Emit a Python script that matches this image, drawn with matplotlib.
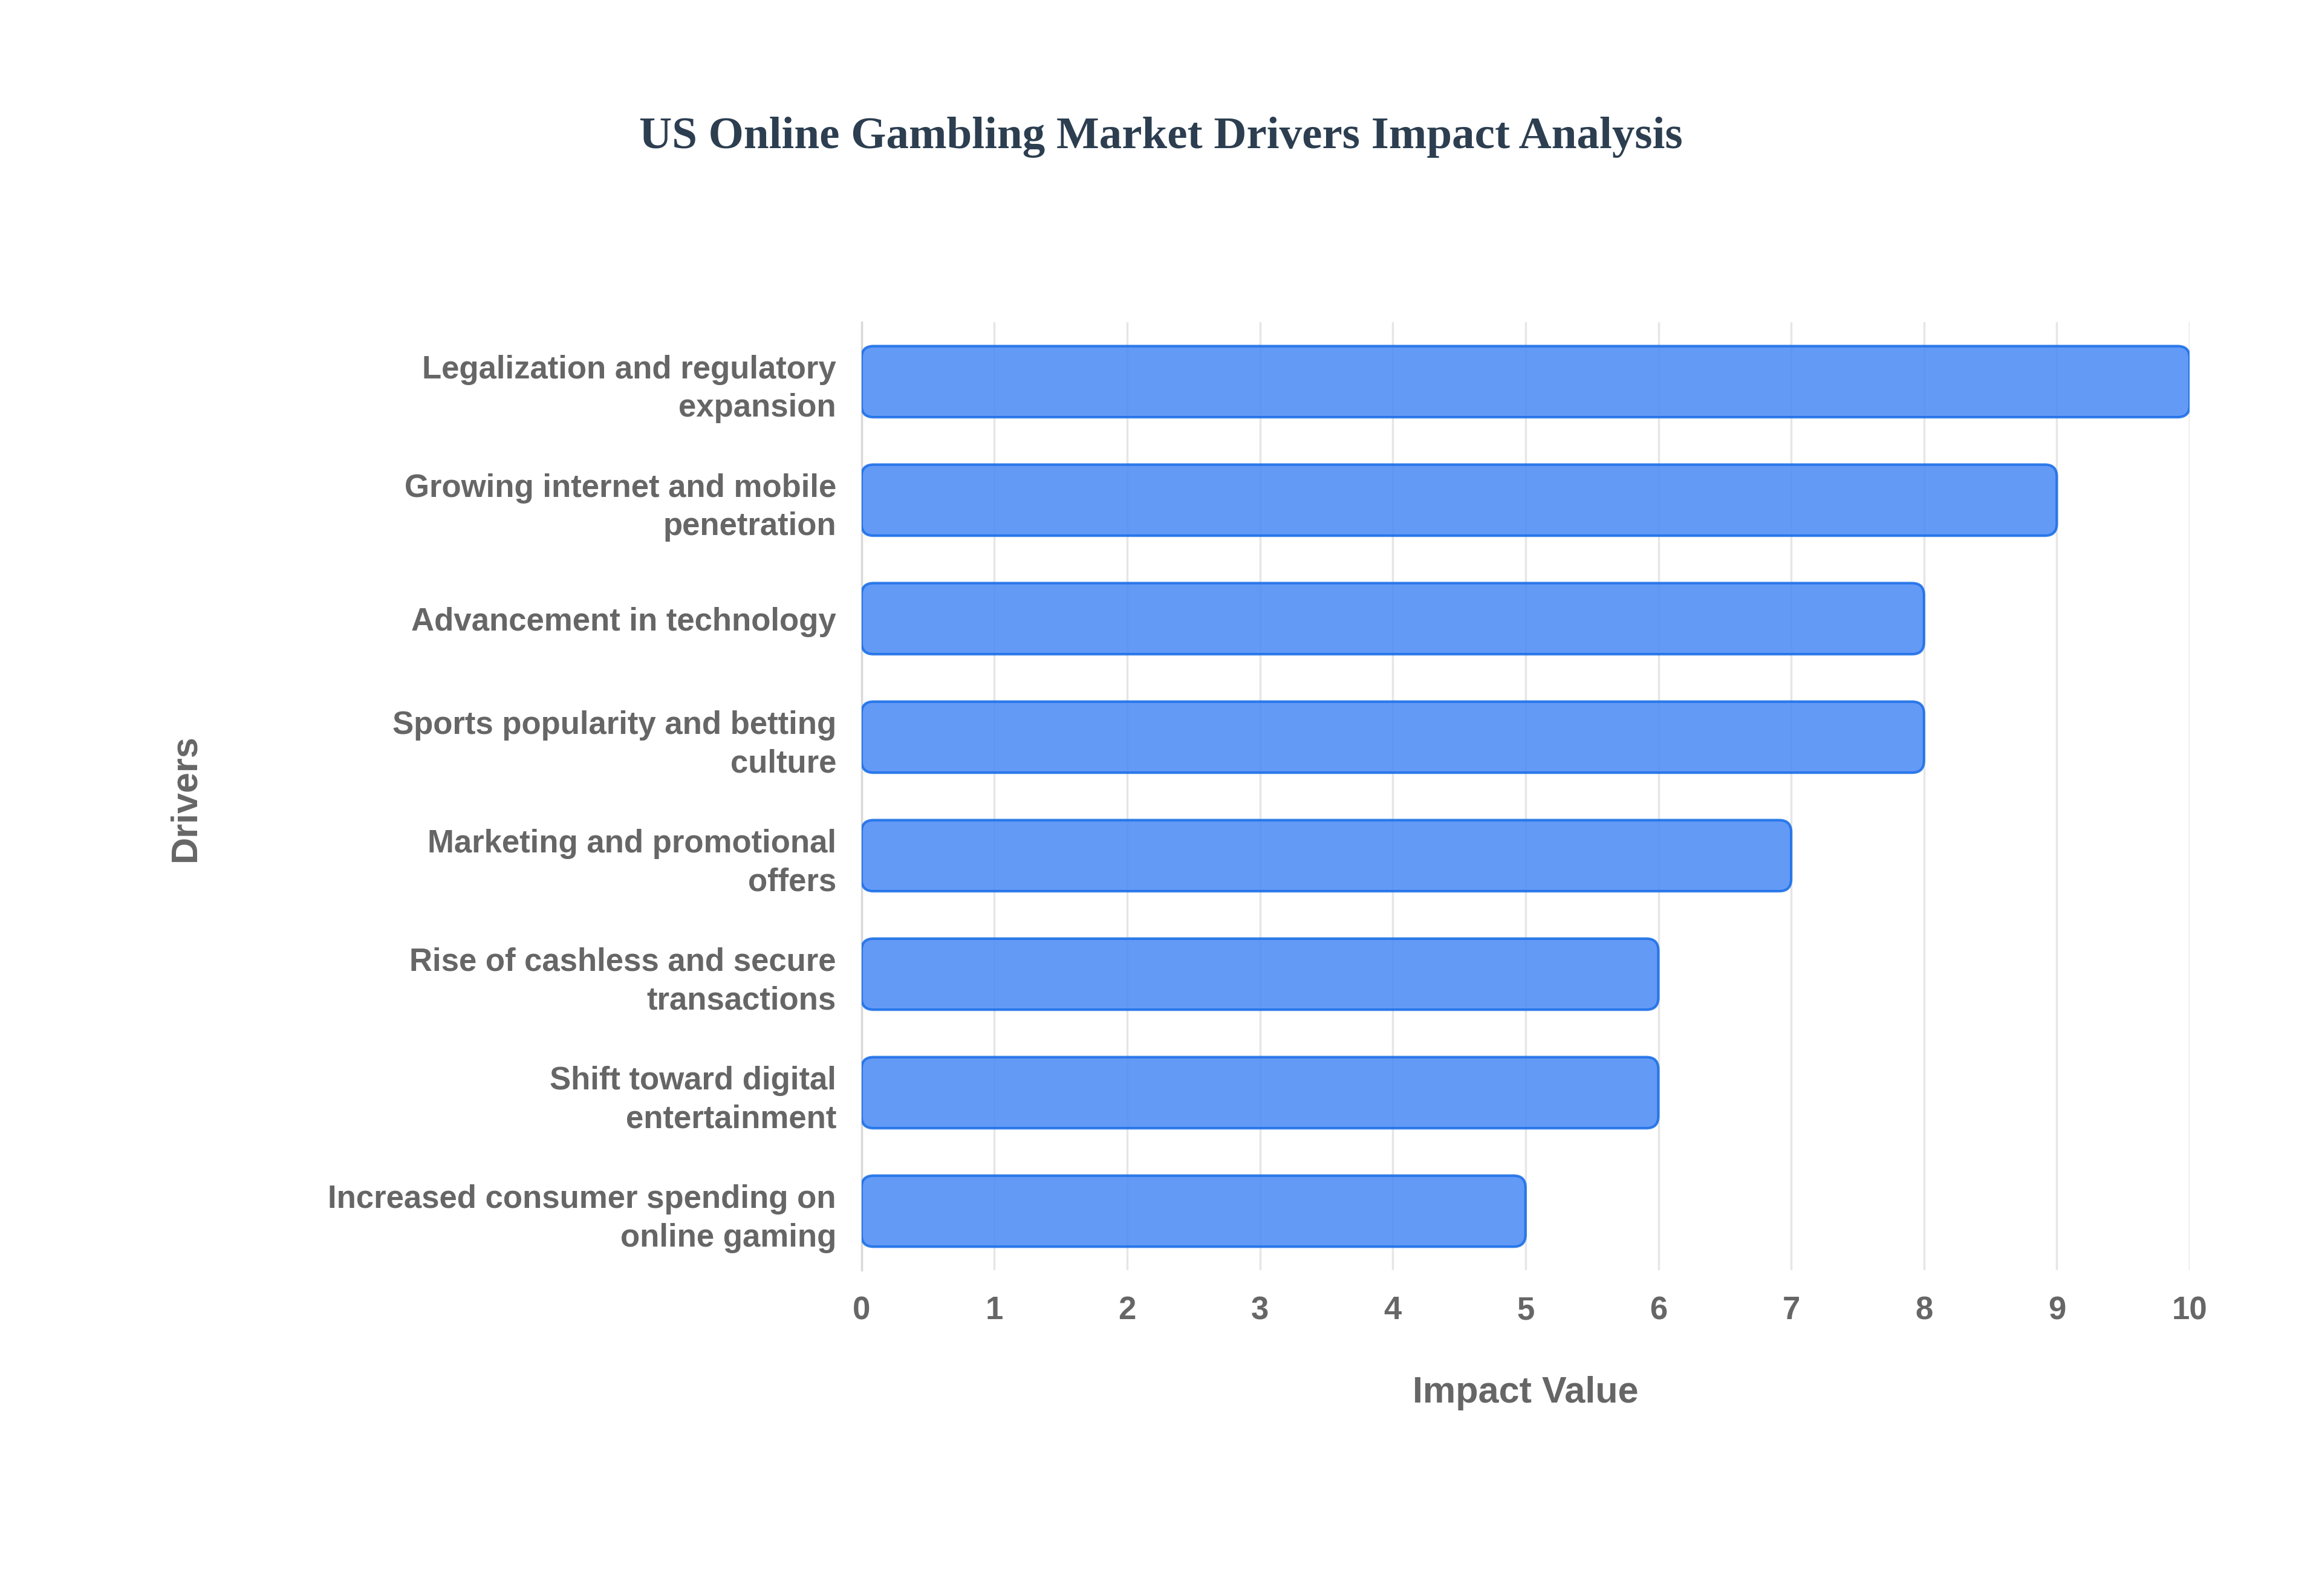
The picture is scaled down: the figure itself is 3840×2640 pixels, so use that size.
import matplotlib
matplotlib.use("Agg")
import matplotlib.pyplot as plt
from matplotlib.patches import FancyBboxPatch

drivers = ["Legalization and regulatory\nexpansion",
           "Growing internet and mobile\npenetration",
           "Advancement in technology",
           "Sports popularity and betting\nculture",
           "Marketing and promotional\noffers",
           "Rise of cashless and secure\ntransactions",
           "Shift toward digital\nentertainment",
           "Increased consumer spending on\nonline gaming"]
values = [10, 9, 8, 8, 7, 6, 6, 5]
xticks = list(range(0, 11))

plt.rcParams['font.family'] = ['Liberation Sans', 'DejaVu Sans']
fig = plt.figure(figsize=(38.4, 26.4), dpi=100)
ax = fig.add_axes([0.371, 0.204, 0.572, 0.594])

n = len(drivers)
ys = [n - 1 - i for i in range(n)]
h = 0.6
for y, v in zip(ys, values):
    p = FancyBboxPatch((0, y - h / 2), v, h,
                       boxstyle="round,pad=0,rounding_size=0.09",
                       mutation_aspect=1.12,
                       facecolor="#4d8cf5", alpha=0.88,
                       edgecolor="#1a6ee8", linewidth=3, zorder=3)
    ax.add_patch(p)

ax.set_xlim(0, 10)
ax.set_ylim(-0.5, n - 0.5)
ax.set_xticks(xticks)
ax.set_xticklabels([str(t) for t in xticks])
ax.set_yticks(ys)
ax.set_yticklabels(drivers, ha='right', linespacing=1.35)
ax.tick_params(axis='both', length=0, labelsize=38, colors='#666666', pad=30)
for lab in ax.get_xticklabels() + ax.get_yticklabels():
    lab.set_fontweight('bold')
ax.grid(axis='x', color='#e6e6e6', linewidth=2.5, zorder=0)
for s in ['top', 'right', 'bottom']:
    ax.spines[s].set_visible(False)
ax.spines['left'].set_color('#d9d9d9')
ax.spines['left'].set_linewidth(2.5)
ax.set_xlabel("Impact Value", fontsize=44, fontweight='bold', color='#666666', labelpad=60)
fig.text(0.08, 0.5, "Drivers", rotation=90, fontsize=44, fontweight='bold',
         color='#666666', ha='center', va='center')
fig.text(0.5, 0.914, "US Online Gambling Market Drivers Impact Analysis",
         fontsize=54, fontweight='bold', color='#2c3e50', ha='center', va='center',
         family=['Liberation Serif', 'DejaVu Serif'])
fig.savefig("out.png", dpi=100, facecolor='white')
